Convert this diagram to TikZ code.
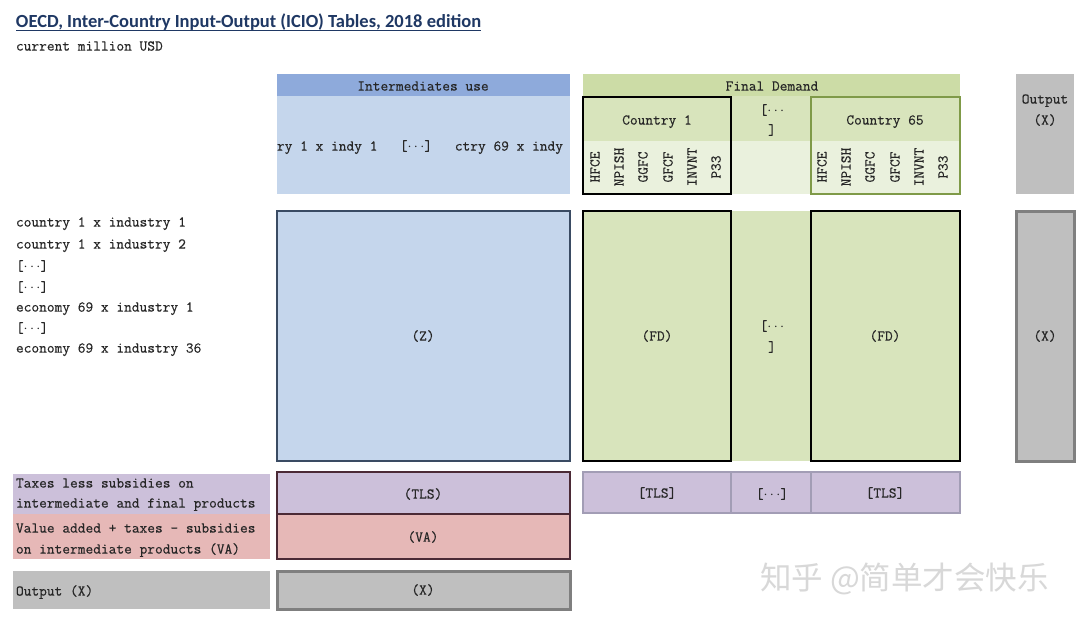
\documentclass[tikz,border=0pt]{standalone}
\usepackage{fontspec}
\setmonofont{Latin Modern Mono}[FakeBold=0.4]
\newfontfamily\titlefont{Carlito}
\newfontfamily\cjk{Noto Sans CJK SC}
\definecolor{titleblue}{HTML}{1F3864}
\definecolor{txt}{HTML}{262626}
\definecolor{hdrblue}{HTML}{8EAADB}
\definecolor{lightblue}{HTML}{C5D6EC}
\definecolor{zborder}{HTML}{3A4B63}
\definecolor{fdhdr}{HTML}{CCDCA6}
\definecolor{gmed}{HTML}{D8E4BC}
\definecolor{glight}{HTML}{EAF1DD}
\definecolor{olivebd}{HTML}{7F9A48}
\definecolor{grayf}{HTML}{BFBFBF}
\definecolor{graybd}{HTML}{7F7F7F}
\definecolor{lav}{HTML}{CCC0DA}
\definecolor{lavbd}{HTML}{A29DB5}
\definecolor{pink}{HTML}{E6B8B7}
\definecolor{maroon}{HTML}{4B2A36}
\definecolor{wmgray}{HTML}{D8D8D8}
\newcommand\mydots{[$\cdots$]}
\begin{document}
\begin{tikzpicture}[x=1pt,y=-1pt,
  every node/.style={inner sep=0pt, outer sep=0pt, text=txt,
    text height=9.2pt, text depth=0pt,
    font=\fontsize{15}{20}\selectfont\ttfamily},
  cw/.style={minimum width=#1pt},
  ch/.style={minimum height=#1pt},
  cell/.style={anchor=north west, rectangle},
  rot/.style={rotate=90},
  zbox/.style={cell, fill=lightblue, draw=zborder, line width=2pt},
  fdbox/.style={cell, fill=gmed, draw=black, line width=2.5pt},
  xbox/.style={cell, fill=grayf, draw=graybd, line width=3pt},
  mbox/.style={cell, draw=maroon, line width=2pt},
  tlsbox/.style={cell, fill=lav, draw=lavbd, line width=1.2pt},
  lab/.style={anchor=west}
]
\useasboundingbox[fill=white] (0,0) rectangle (1080,625);

% title
\node[anchor=base west, text height=, text depth=, font=\titlefont\bfseries\fontsize{18.5}{20}\selectfont, text=titleblue] (title) at (16,27.5) {OECD, Inter-Country Input-Output (ICIO) Tables, 2018 edition};
\draw[titleblue, line width=1.1pt] ([yshift=-2.8pt]title.base west) -- ([yshift=-2.8pt]title.base east);
\node[lab] (unit) at (16,46) {current million USD};

% intermediates header
\node[cell, fill=hdrblue, cw=293, ch=22] (ihdr) at (277,74) {};
\node (ihdrlab) at (423,86) {Intermediates use};
\node[cell, fill=lightblue, cw=293, ch=98] (ibody) at (277,96) {};
\node[anchor=west] (il1) at (277,146) {ry 1 x indy 1};
\node (il2) at (416,146) {\mydots};
\node[anchor=east] (il3) at (563,146) {ctry 69 x indy};

% final demand header
\node[cell, fill=fdhdr, cw=377, ch=22] (fdhdr) at (583,74) {};
\node (fdhdrlab) at (772,86) {Final Demand};
\node[cell, fill=gmed, cw=148, ch=45] (c1top) at (583,96) {};
\node (c1lab) at (657,120) {Country 1};
\node[cell, fill=glight, cw=148, ch=53] (c1bot) at (583,141) {};
\node[cell, fill=gmed, cw=80, ch=45] (mtop) at (731,96) {};
\node[cell, fill=glight, cw=80, ch=53] (mbot) at (731,141) {};
\node (mdotsa) at (772,110) {[$\cdots$};
\node (mdotsb) at (772,130) {]};
\node[cell, fill=gmed, cw=149, ch=45] (c65top) at (811,96) {};
\node (c65lab) at (885,120) {Country 65};
\node[cell, fill=glight, cw=149, ch=53] (c65bot) at (811,141) {};
\node[cell, draw=black, line width=2.5pt, cw=148, ch=97] (c1box) at (583,97) {};
\node[cell, draw=olivebd, line width=2.5pt, cw=149, ch=97] (c65box) at (811,97) {};
\foreach \n/\t/\xa/\xb in {1/HFCE/595/822, 2/NPISH/619/846, 3/GGFC/643/870, 4/GFCF/668/895, 5/INVNT/692/919, 6/P33/716/943}{
  \node[rot] (fa\n) at (\xa,167) {\t};
  \node[rot] (fb\n) at (\xb,167) {\t};
}

% output header
\node[cell, fill=grayf, cw=58, ch=120] (xhdr) at (1016,74) {};
\node (xhlaba) at (1045,99) {Output};
\node (xhlabb) at (1045,120) {(X)};

% row labels
\foreach \n/\t/\y in {1/country 1 x industry 1/222, 2/country 1 x industry 2/244, 3/\mydots/266, 4/\mydots/287, 5/economy 69 x industry 1/307, 6/\mydots/328, 7/economy 69 x industry 36/348}{
  \node[lab] (rl\n) at (16,\y) {\t};
}

% body
\node[zbox, cw=293, ch=250] (Z) at (277,211) {};
\node (Zlab) at (423,336) {(Z)};
\node[cell, fill=gmed, cw=80, ch=250] (mbody) at (731,211) {};
\node (mbdotsa) at (772,326) {[$\cdots$};
\node (mbdotsb) at (772,347) {]};
\node[fdbox, cw=148, ch=250] (FD1) at (583,211) {};
\node (FD1lab) at (657,336) {(FD)};
\node[fdbox, cw=149, ch=250] (FD65) at (811,211) {};
\node (FD65lab) at (885,336) {(FD)};
\node[xbox, cw=58, ch=250] (Xcol) at (1016,211) {};
\node (Xcollab) at (1045,336) {(X)};

% bottom rows
\node[cell, fill=lav, cw=257, ch=40] (tlslabbox) at (13,474) {};
\node[lab] (tlslaba) at (16,483) {Taxes less subsidies on};
\node[lab] (tlslabb) at (16,503) {intermediate and final products};
\node[cell, fill=pink, cw=257, ch=45] (valabbox) at (13,514) {};
\node[lab] (valaba) at (16,528) {Value added + taxes - subsidies};
\node[lab] (valabb) at (16,549) {on intermediate products (VA)};
\node[cell, fill=grayf, cw=257, ch=38] (xlabbox) at (13,571) {};
\node[lab] (xlab) at (16,591) {Output (X)};

\node[mbox, fill=lav, cw=293, ch=42] (TLS) at (277,472) {};
\node (TLSlab) at (423,494) {(TLS)};
\node[mbox, fill=pink, cw=293, ch=45] (VA) at (277,514) {};
\node (VAlab) at (423,537) {(VA)};
\node[xbox, cw=293, ch=38] (Xrow) at (277,571) {};
\node (Xrowlab) at (423,590) {(X)};

\node[tlsbox, cw=148, ch=41] (tls1) at (583,472) {};
\node (tls1lab) at (657,493) {[TLS]};
\node[tlsbox, cw=80, ch=41] (tlsm) at (731,472) {};
\node (tlsmlab) at (772,494) {\mydots};
\node[tlsbox, cw=149, ch=41] (tls65) at (811,472) {};
\node (tls65lab) at (885,493) {[TLS]};

% watermark
\node[anchor=west, text height=, text depth=, font=\cjk\fontsize{31.5}{33}\selectfont, text=wmgray] (wm) at (760,579) {知乎 @简单才会快乐};
\end{tikzpicture}
\end{document}
